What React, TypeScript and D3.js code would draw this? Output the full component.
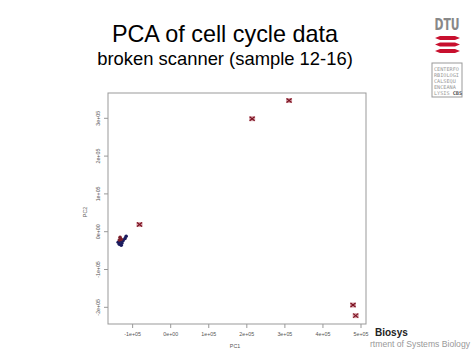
import React from "react";
import * as d3 from "d3";

const W = 474, H = 355;
const xTicks = [-100000, 0, 100000, 200000, 300000, 400000, 500000];
const yTicks = [-200000, -100000, 0, 100000, 200000, 300000];
const xTickLabels = ["-1e+05", "0e+00", "1e+05", "2e+05", "3e+05", "4e+05", "5e+05"];
const yTickLabels = ["-2e+05", "-1e+05", "0e+00", "1e+05", "2e+05", "3e+05"];

const brokenX = [214000, 311000, -82000, 479000, 486000];
const brokenY = [299000, 347000, 19000, -194000, -222000];

const navyX = [-138000, -135000, -130000, -125000, -120000, -117000, -133000, -128000];
const navyY = [-28000, -33000, -36000, -23000, -18000, -12000, -25000, -30000];
const redX = [-133000, -130000, -135000];
const redY = [-15000, -20000, -22000];

const cbsLines = ["CENTERFO", "RBIOLOGI", "CALSEQU", "ENCEANA"];

export default function App() {
  const x = d3.scaleLinear().domain([0, 500000]).range([170.7, 361]);
  const y = d3.scaleLinear().domain([0, 300000]).range([231.7, 118.3]);
  const left = 108, right = 366, top = 93, bottom = 324;
  const font = "'Liberation Sans', Arial, sans-serif";
  return (
    <svg width={W} height={H} style={{ position: "absolute", left: 0, top: 0, background: "#fff" }} fontFamily={font}>
      <rect width={W} height={H} fill="#fff" />
      <text x={225} y={42} textAnchor="middle" fontSize={23.4} fill="#000">PCA of cell cycle data</text>
      <text x={225} y={65} textAnchor="middle" fontSize={18.4} fill="#000">broken scanner (sample 12-16)</text>

      {/* DTU logo */}
      <text x={447} y={30} textAnchor="middle" fontSize={15} fontWeight="bold" fill="#888" fontFamily="'DejaVu Sans Condensed', 'DejaVu Sans', sans-serif" transform="translate(447,30) scale(0.8,1) translate(-447,-30)">DTU</text>
      {[38, 44.5, 51].map((yy, i) => (
        <path key={i} d={`M435,${yy} L440,${yy - 2} L455,${yy - 2} L460,${yy} L455,${yy + 2} L440,${yy + 2} Z`} fill="#c8102e" />
      ))}
      <rect x={432} y={63} width={30} height={34} fill="#fff" stroke="#999" strokeWidth={1} />
      {cbsLines.map((t, i) => (
        <text key={i} x={434} y={71 + i * 6} fontSize={5.2} fill="#999" fontFamily="'DejaVu Sans Mono', monospace">{t}</text>
      ))}
      <text x={434} y={95} fontSize={5.2} fill="#999" fontFamily="'DejaVu Sans Mono', monospace">LYSIS <tspan fill="#555" fontWeight="bold">CBS</tspan></text>

      {/* plot box */}
      <rect x={left} y={top} width={right - left} height={bottom - top} fill="none" stroke="#999" strokeWidth={1} />
      {xTicks.map((t, i) => (
        <g key={i}>
          <line x1={x(t)} x2={x(t)} y1={bottom} y2={bottom + 4} stroke="#999" />
          <text x={x(t)} y={336} textAnchor="middle" fontSize={5.3} fill="#555">{xTickLabels[i]}</text>
        </g>
      ))}
      {yTicks.map((t, i) => (
        <g key={i}>
          <line x1={left - 4} x2={left} y1={y(t)} y2={y(t)} stroke="#999" />
          <text x={0} y={0} textAnchor="middle" fontSize={5.3} fill="#555" transform={`translate(100,${y(t)}) rotate(-90)`}>{yTickLabels[i]}</text>
        </g>
      ))}
      <text x={235} y={348} textAnchor="middle" fontSize={5.3} fill="#555">PC1</text>
      <text x={0} y={0} textAnchor="middle" fontSize={5.3} fill="#555" transform={`translate(87,${212}) rotate(-90)`}>PC2</text>

      {navyX.map((v, i) => (
        <circle key={"n" + i} cx={x(v)} cy={y(navyY[i])} r={1.8} fill="#1b1b5e" />
      ))}
      {redX.map((v, i) => (
        <circle key={"r" + i} cx={x(v)} cy={y(redY[i])} r={1.8} fill="#7a1f2b" />
      ))}
      {brokenX.map((v, i) => {
        const cx = x(v), cy = y(brokenY[i]);
        return (
          <g key={"b" + i}>
            <rect x={cx - 3} y={cy - 2.5} width={6} height={5} fill="#d9a3aa" />
            <path d={`M${cx - 2.5},${cy - 2} L${cx + 2.5},${cy + 2} M${cx - 2.5},${cy + 2} L${cx + 2.5},${cy - 2}`} stroke="#7a1020" strokeWidth={1.2} />
          </g>
        );
      })}

      {/* footer logo text */}
      <text x={375} y={336} fontSize={10} fontWeight="bold" fill="#222">Biosys</text>
      <text x={370} y={347} fontSize={8.6} fill="#999" textLength={100} lengthAdjust="spacingAndGlyphs">rtment of Systems Biology</text>
    </svg>
  );
}
